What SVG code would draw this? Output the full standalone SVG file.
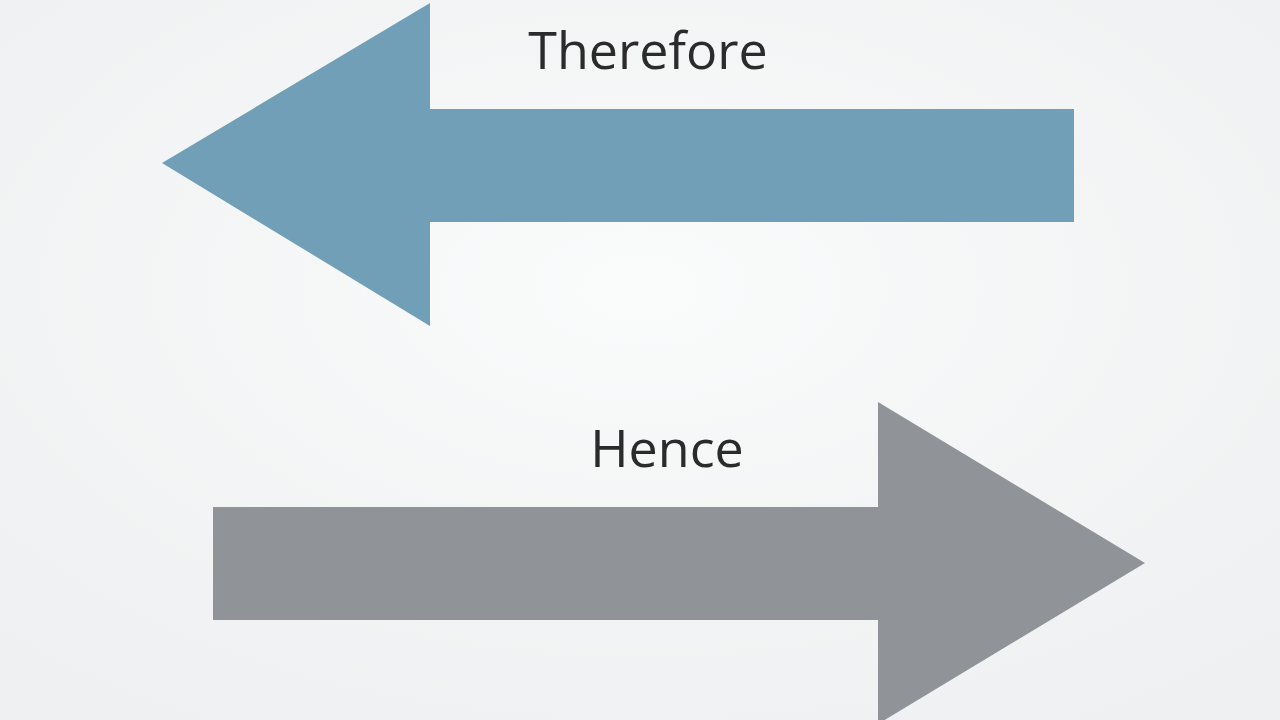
<svg xmlns="http://www.w3.org/2000/svg" width="1280" height="720" viewBox="0 0 1280 720">
<defs>
<radialGradient id="bg" cx="50%" cy="40%" r="70%"><stop offset="0" stop-color="#fafbfb"/><stop offset="1" stop-color="#eef0f1"/></radialGradient>
<style>.t{font-family:"Open Sans","DejaVu Sans",sans-serif;font-size:52px;fill:#2b2b2b}</style>
</defs>
<rect width="1280" height="720" fill="url(#bg)"/>
<g id="therefore-arrow"><polygon points="162,163 430,3 430,109 1074,109 1074,222 430,222 430,326" fill="#719fb8"/></g>
<g id="hence-arrow"><polygon points="1145,563 878,402 878,507 213,507 213,620 878,620 878,724" fill="#909498"/></g>
<g id="labels">
<text class="t" x="648" y="69" text-anchor="middle">Therefore</text>
<text class="t" x="667" y="467" text-anchor="middle">Hence</text>
</g>
</svg>
